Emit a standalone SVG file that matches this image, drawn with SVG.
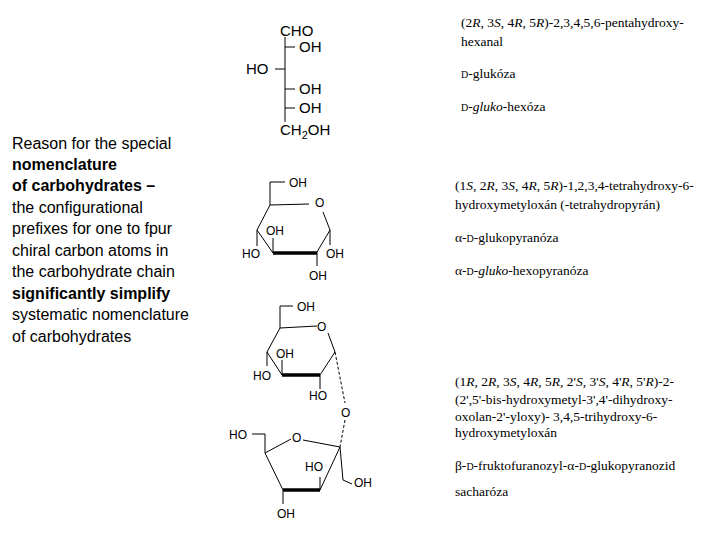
<svg xmlns="http://www.w3.org/2000/svg" width="720" height="540" viewBox="0 0 720 540">
<style>
.l{font-family:"Liberation Sans",Arial,sans-serif;font-size:16px;fill:#000}
.c{font-family:"Liberation Sans",Arial,sans-serif;font-size:15px;fill:#000}
.s{font-family:"Liberation Sans",Arial,sans-serif;font-size:12px;fill:#000}
.r{font-family:"Liberation Serif","Times New Roman",serif;font-size:13.5px;fill:#000}
.sc{font-size:10px}
.b{stroke:#000;stroke-width:1;fill:none}
.k{stroke:#000;stroke-width:3.5;fill:none}
.d{stroke:#000;stroke-width:1;fill:none;stroke-dasharray:3,2}
</style>
<rect width="720" height="540" fill="#fff"/>
<g id="intro">
<text class="l" x="12" y="149">Reason for the special</text>
<text class="l" x="12" y="170" font-weight="bold">nomenclature</text>
<text class="l" x="12" y="191" font-weight="bold">of carbohydrates –</text>
<text class="l" x="12" y="213">the configurational</text>
<text class="l" x="12" y="234">prefixes for one to fpur</text>
<text class="l" x="12" y="256">chiral carbon atoms in</text>
<text class="l" x="12" y="277">the carbohydrate chain</text>
<text class="l" x="12" y="299" font-weight="bold">significantly simplify</text>
<text class="l" x="12" y="320">systematic nomenclature</text>
<text class="l" x="12" y="342">of carbohydrates</text>
</g>
<g id="fischer">
<path class="b" d="M285 37V122M285 47H295M275 69H285M285 89H295M285 108H295"/>
<text class="c" x="280" y="36">CHO</text>
<text class="c" x="299" y="52">OH</text>
<text class="c" x="246" y="74">HO</text>
<text class="c" x="299" y="94">OH</text>
<text class="c" x="299" y="113">OH</text>
<text class="c" x="280" y="135">CH<tspan font-size="11" dy="4">2</tspan><tspan dy="-4">OH</tspan></text>
</g>
<g id="glucopyranose">
<path class="b" d="M309 204L270 205L257 230L273 253M317 252L330 230L323 212M270 205V182H285M273 253V238M257 230V246M330 230V245M317 252V266"/>
<path class="k" d="M273 253H317"/>
<text class="s" x="315" y="207">O</text>
<text class="s" x="289" y="187">OH</text>
<text class="s" x="266" y="235">OH</text>
<text class="s" x="242" y="258">HO</text>
<text class="s" x="326" y="258">OH</text>
<text class="s" x="309" y="280">OH</text>
</g>
<g id="sucrose">
<path class="b" d="M317 326L280 328L267 352L282 375M320 375L335 352L328 333M280 328V306H293M282 375V360M267 352V366M320 375V389"/>
<path class="k" d="M282 375H320"/>
<path class="d" d="M335 352L345 403M345 420L340 447"/>
<text class="s" x="317" y="331">O</text>
<text class="s" x="297" y="311">OH</text>
<text class="s" x="276" y="358">OH</text>
<text class="s" x="253" y="380">HO</text>
<text class="s" x="309" y="400">HO</text>
<text class="s" x="341" y="417">O</text>
<path class="b" d="M303 440L340 447L320 490M291 439L265 453L283 490M265 453V434H252M283 490V504M320 490V477M340 447L343 480L352 484"/>
<path class="k" d="M283 490H320"/>
<text class="s" x="292" y="442">O</text>
<text class="s" x="229" y="439">HO</text>
<text class="s" x="305" y="471">HO</text>
<text class="s" x="354" y="487">OH</text>
<text class="s" x="277" y="518">OH</text>
</g>
<g id="names">
<text class="r" x="461" y="27">(2<tspan font-style="italic">R</tspan>, 3<tspan font-style="italic">S</tspan>, 4<tspan font-style="italic">R</tspan>, 5<tspan font-style="italic">R</tspan>)-2,3,4,5,6-pentahydroxy-</text>
<text class="r" x="461" y="46">hexanal</text>
<text class="r" x="461" y="78"><tspan class="sc">D</tspan>-glukóza</text>
<text class="r" x="461" y="111"><tspan class="sc">D</tspan>-<tspan font-style="italic">gluko</tspan>-hexóza</text>
<text class="r" x="455" y="190">(1<tspan font-style="italic">S</tspan>, 2<tspan font-style="italic">R</tspan>, 3<tspan font-style="italic">S</tspan>, 4<tspan font-style="italic">R</tspan>, 5<tspan font-style="italic">R</tspan>)-1,2,3,4-tetrahydroxy-6-</text>
<text class="r" x="455" y="209">hydroxymetyloxán  (-tetrahydropyrán)</text>
<text class="r" x="455" y="242">α-<tspan class="sc">D</tspan>-glukopyranóza</text>
<text class="r" x="455" y="275">α-<tspan class="sc">D</tspan>-<tspan font-style="italic">gluko</tspan>-hexopyranóza</text>
<text class="r" x="455" y="386">(1<tspan font-style="italic">R</tspan>, 2<tspan font-style="italic">R</tspan>, 3<tspan font-style="italic">S</tspan>, 4<tspan font-style="italic">R</tspan>, 5<tspan font-style="italic">R</tspan>, 2'<tspan font-style="italic">S</tspan>, 3'<tspan font-style="italic">S</tspan>, 4'<tspan font-style="italic">R</tspan>, 5'<tspan font-style="italic">R</tspan>)-2-</text>
<text class="r" x="455" y="404">(2',5'-bis-hydroxymetyl-3',4'-dihydroxy-</text>
<text class="r" x="455" y="421">oxolan-2'-yloxy)- 3,4,5-trihydroxy-6-</text>
<text class="r" x="455" y="437">hydroxymetyloxán</text>
<text class="r" x="455" y="470">β-<tspan class="sc">D</tspan>-fruktofuranozyl-α-<tspan class="sc">D</tspan>-glukopyranozid</text>
<text class="r" x="455" y="496">sacharóza</text>
</g>
</svg>
